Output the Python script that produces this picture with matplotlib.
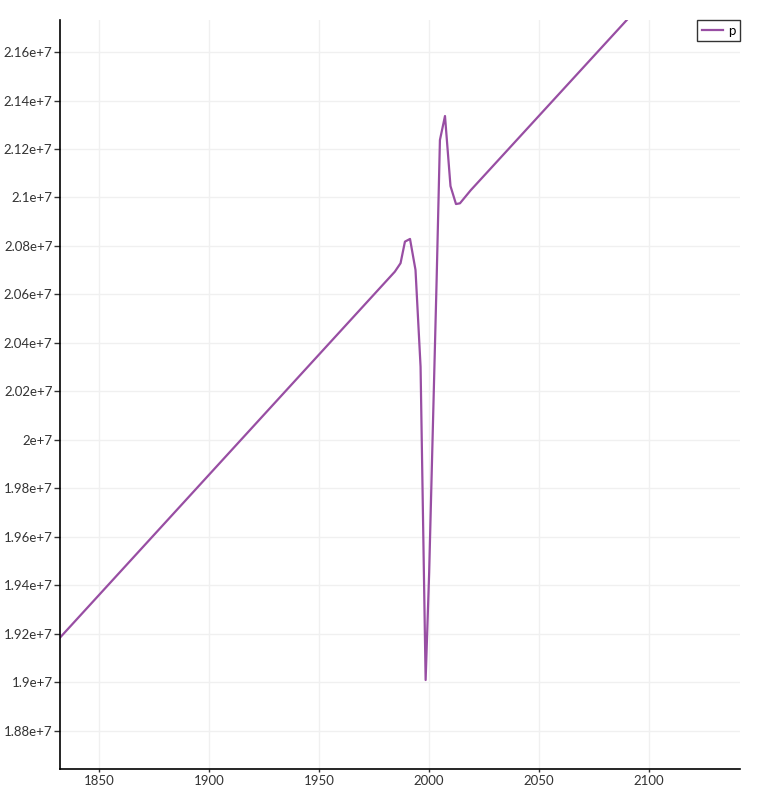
import matplotlib
matplotlib.use("Agg")
import matplotlib.pyplot as plt
from matplotlib.ticker import MultipleLocator, FuncFormatter

# values (year, p)
years = [1830, 1984.5, 1987.1, 1989.1, 1991.4, 1993.9, 1996.2, 1998.5,
         2000.1, 2003.5, 2005.0, 2007.3, 2009.8, 2012.3, 2014.1, 2019.0,
         2027.7, 2095]
p = [1.9162e7, 2.0694e7, 2.0729e7, 2.0818e7, 2.0829e7, 2.0701e7, 2.0302e7, 1.9010e7,
     1.9452e7, 2.0660e7, 2.1237e7, 2.1336e7, 2.1047e7, 2.0973e7, 2.0976e7, 2.1030e7,
     2.1116e7, 2.1782e7]

plt.rcParams["font.family"] = ["Lato", "DejaVu Sans"]

fig = plt.figure(figsize=(7.6, 7.96), dpi=100)
ax = fig.add_axes([60 / 760, 27 / 796, 680 / 760, 749 / 796])

ax.plot(years, p, color="#984ea3", linewidth=1.6, label="p")

ax.set_xlim(1832.3, 2141.4)
ax.set_ylim(1.8643e7, 2.1732e7)
ax.xaxis.set_major_locator(MultipleLocator(50))
ax.yaxis.set_major_locator(MultipleLocator(2e5))


def sci(v, pos):
    m = v / 1e7
    s = f"{m:.2f}".rstrip("0").rstrip(".")
    return f"{s}e+7"


ax.yaxis.set_major_formatter(FuncFormatter(sci))

ax.grid(True, color="#f0f0f0", linewidth=1)
ax.set_axisbelow(True)
for side in ["top", "right"]:
    ax.spines[side].set_visible(False)
for side in ["left", "bottom"]:
    ax.spines[side].set_color("black")
    ax.spines[side].set_linewidth(1.2)

ax.tick_params(axis="y", direction="out", length=4, width=1, pad=1.5,
               labelsize=9.5, colors="#333333")
ax.tick_params(axis="x", direction="out", length=2, width=1, pad=2,
               labelsize=9.5, colors="#333333")

leg = ax.legend(loc="upper right", frameon=True, fancybox=False,
                edgecolor="black", fontsize=9.5, handlelength=1.6,
                borderpad=0.35, borderaxespad=0.0, handletextpad=0.4)
leg.get_frame().set_linewidth(1.0)

fig.savefig("out.png", dpi=100)
